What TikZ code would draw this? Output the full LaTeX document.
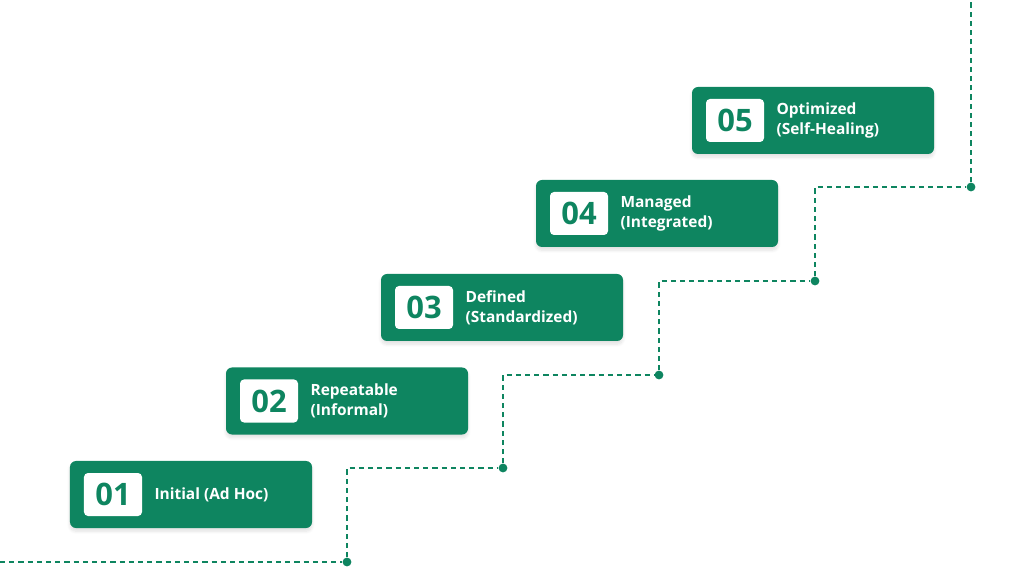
\documentclass[tikz,border=0pt]{standalone}
\usepackage{fontspec}
\setmainfont{Open Sans}
\usepackage{tikz}
\usetikzlibrary{
arrows.meta,
positioning,
shadows.blur
}
\definecolor{stagegreen}{RGB}{14,133,96}

\begin{document}
\begin{tikzpicture}[
x=0.25mm, y=0.25mm,
stage/.style={
fill=stagegreen,
rounded corners=1.5mm,
minimum width=60.5mm,
minimum height=16.75mm,
blur shadow={shadow xshift=0mm, shadow yshift=-0.8mm, shadow opacity=12, shadow blur steps=8}
},
numbox/.style={
fill=white,
rounded corners=1mm,
minimum width=14.5mm,
minimum height=10.75mm,
inner sep=0pt,
text=stagegreen,
font=\fontsize{22}{24}\selectfont\bfseries
},
label/.style={
text=white,
align=left,
inner sep=0pt,
font=\fontsize{11}{14.2}\selectfont\bfseries
},
dot/.style={circle, fill=stagegreen, inner sep=0pt, minimum size=2.2mm},
stair/.style={stagegreen, line width=0.3mm, dash pattern=on 1.3mm off 1mm}
]
\useasboundingbox (0,0) rectangle (1024,576);

% stages
\node[stage] (s1) at (191,81.5) {};
\node[stage] (s2) at (347,175) {};
\node[stage] (s3) at (502,268.5) {};
\node[stage] (s4) at (657,362.5) {};
\node[stage] (s5) at (813,455.5) {};

\node[numbox,anchor=west,xshift=3.5mm] (n1) at (s1.west) {01};
\node[numbox,anchor=west,xshift=3.5mm] (n2) at (s2.west) {02};
\node[numbox,anchor=west,xshift=3.5mm] (n3) at (s3.west) {03};
\node[numbox,anchor=west,xshift=3.5mm] (n4) at (s4.west) {04};
\node[numbox,anchor=west,xshift=3.5mm] (n5) at (s5.west) {05};

\node[label,right=3mm of n1] (l1) {Initial (Ad Hoc)};
\node[label,right=3mm of n2] (l2) {Repeatable\\(Informal)};
\node[label,right=3mm of n3] (l3) {Defined\\(Standardized)};
\node[label,right=3mm of n4] (l4) {Managed\\(Integrated)};
\node[label,right=3mm of n5] (l5) {Optimized\\(Self-Healing)};

% staircase
\coordinate (start) at (0,14);
\node[dot] (d1) at (347,14) {};
\node[dot] (d2) at (503,108) {};
\node[dot] (d3) at (659,201) {};
\node[dot] (d4) at (815,295) {};
\node[dot] (d5) at (971,389) {};
\coordinate (top) at (971,576);

\draw[stair] (start) -- (d1);
\draw[stair] (d1) |- (d2);
\draw[stair] (d2) |- (d3);
\draw[stair] (d3) |- (d4);
\draw[stair] (d4) |- (d5);
\draw[stair] (d5) -- (top);

\end{tikzpicture}
\end{document}
